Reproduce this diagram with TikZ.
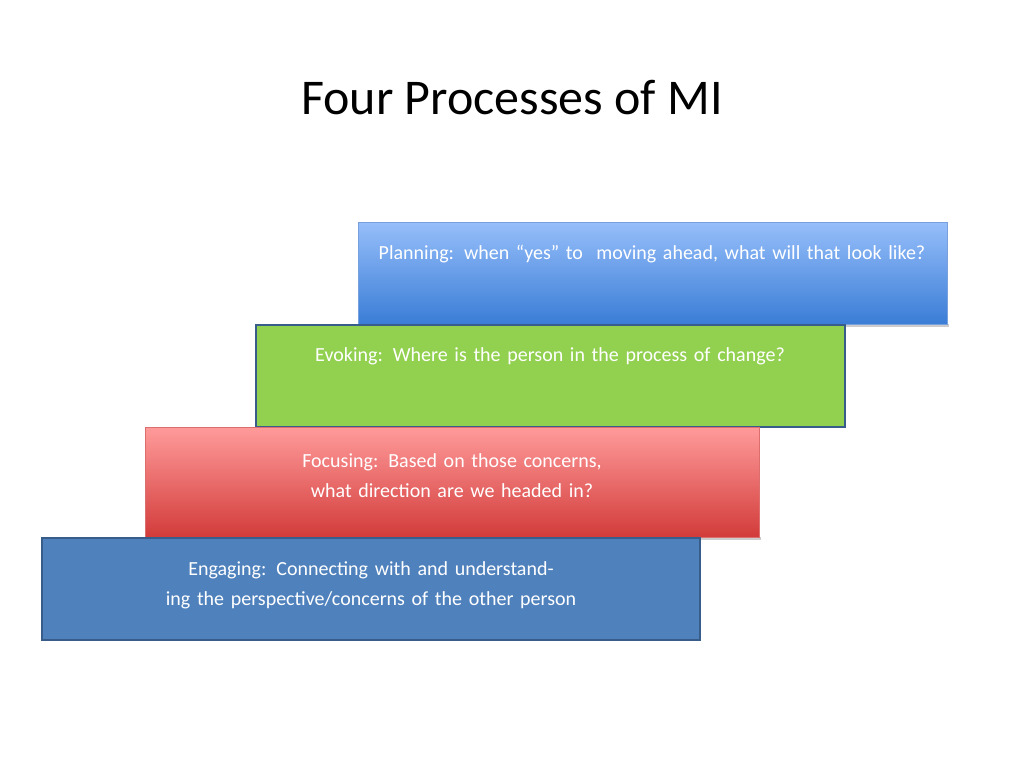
\documentclass[tikz,border=0pt]{standalone}
\usepackage{fontspec}
\setmainfont{Carlito}
\definecolor{plantop}{RGB}{150,190,250}
\definecolor{planbot}{RGB}{58,125,214}
\definecolor{planedge}{RGB}{120,160,220}
\definecolor{evfill}{RGB}{146,208,80}
\definecolor{darkedge}{RGB}{56,93,138}
\definecolor{foctop}{RGB}{255,155,155}
\definecolor{focbot}{RGB}{210,60,58}
\definecolor{focedge}{RGB}{220,110,110}
\definecolor{engfill}{RGB}{79,129,189}
\begin{document}
\begin{tikzpicture}[x=1pt,y=-1pt,
  txt/.style={text=white,font=\fontsize{20}{30}\selectfont,align=center,anchor=north}]
\useasboundingbox (0,0) rectangle (1024,768);
\node[font=\fontsize{50}{60}\selectfont] (title) at (512,98) {Four Processes of MI};
% Planning
\fill[gray!40] (360,324) rectangle (949,327);
\shade[top color=plantop, bottom color=planbot] (358,222) rectangle (947,324);
\draw[planedge,line width=0.8] (358,222) rectangle (947,324);
\node[txt,text width=570] (plan) at (652,242) {Planning: when “yes” to\ \ moving ahead, what will that look like?};
% Evoking
\draw[fill=evfill,draw=darkedge,line width=2] (256,325) rectangle (845,427);
\node[txt,text width=560] (evok) at (550,344) {Evoking: Where is the person in the process of change?};
% Focusing
\fill[gray!40] (147,537) rectangle (761,540);
\shade[top color=foctop, bottom color=focbot] (145,427) rectangle (759,537);
\draw[focedge,line width=0.8] (145,427) rectangle (759,537);
\node[txt,text width=580] (focus) at (452,450) {Focusing: Based on those concerns, what direction are we headed in?};
% Engaging
\draw[fill=engfill,draw=darkedge,line width=2] (42,538) rectangle (700,640);
\node[txt,text width=620] (eng) at (371,558) {Engaging: Connecting with and understanding the perspective/concerns of the other person};
\end{tikzpicture}
\end{document}
